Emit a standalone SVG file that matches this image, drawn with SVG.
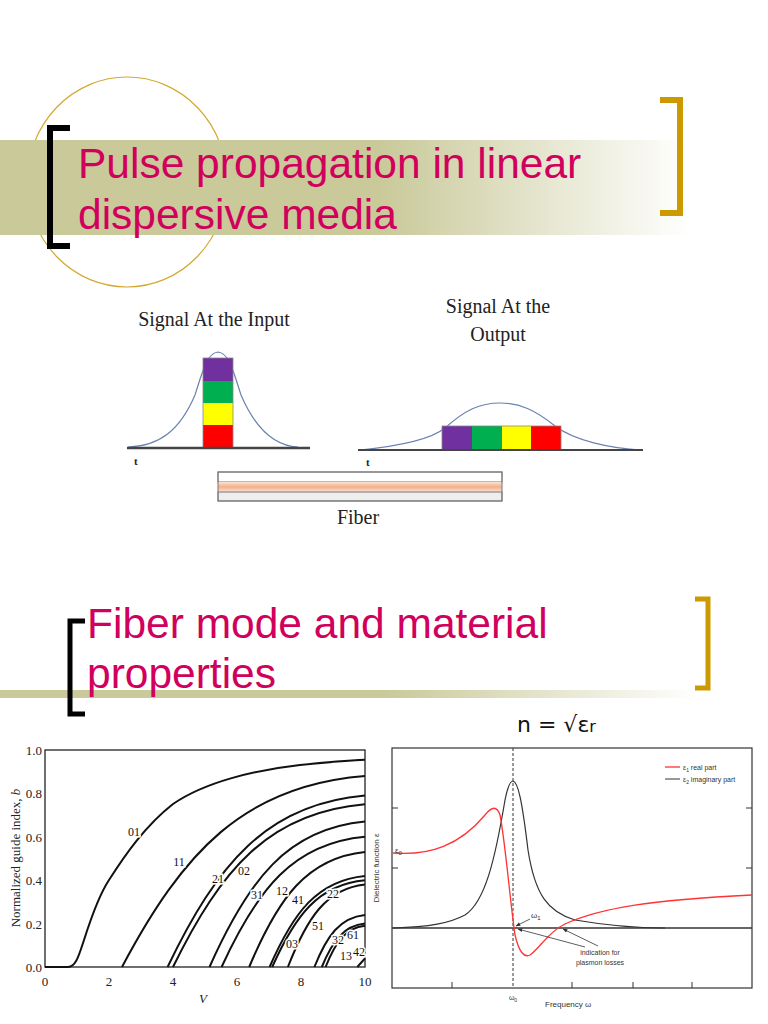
<svg xmlns="http://www.w3.org/2000/svg" width="768" height="1024" viewBox="0 0 768 1024">
<defs>
<linearGradient id="band" x1="0" x2="1" y1="0" y2="0">
<stop offset="0" stop-color="#c9c99a"/><stop offset="0.55" stop-color="#c9c99a"/><stop offset="1" stop-color="#ffffff"/>
</linearGradient>
<linearGradient id="core" x1="0" x2="0" y1="0" y2="1">
<stop offset="0" stop-color="#fbe3d3"/><stop offset="0.5" stop-color="#f2b08c"/><stop offset="1" stop-color="#fbe3d3"/>
</linearGradient>
<marker id="ah" viewBox="0 0 10 10" refX="9" refY="5" markerWidth="6" markerHeight="6" orient="auto"><path d="M0,1 L10,5 L0,9 z" fill="#333"/></marker>
</defs>
<style>
.title{font-family:"Liberation Sans",Arial,sans-serif;font-size:42.5px;fill:#d1005d}
.serif{font-family:"Liberation Serif","Times New Roman",serif;fill:#222}
.sans{font-family:"Liberation Sans",Arial,sans-serif;fill:#333}
.crv{fill:none;stroke:#111;stroke-width:2}
.lbl{font-family:"Liberation Serif",serif;font-size:12px;fill:#111;stroke:#fff;stroke-width:3px;paint-order:stroke}
.tick{font-family:"Liberation Serif",serif;font-size:13px;fill:#222}
</style>
<rect width="768" height="1024" fill="#fff"/>
<g id="title1">
<ellipse cx="127" cy="182" rx="100" ry="105" fill="none" stroke="#d4a830" stroke-width="1.2"/>
<rect x="0" y="140" width="690" height="95" fill="url(#band)"/>
<path d="M70,128 H50 V246 H70" fill="none" stroke="#000" stroke-width="6"/>
<path d="M660,100 H680 V213 H660" fill="none" stroke="#cc9900" stroke-width="6"/>
<text class="title" x="78" y="178">Pulse propagation in linear</text>
<text class="title" x="78" y="229">dispersive media</text>
</g>
<g id="signal-input">
<text class="serif" x="214" y="326" font-size="20" text-anchor="middle">Signal At the Input</text>
<path d="M128,447 C160,446 180,430 195,395 C203,370 207,353 218,352 C229,353 233,370 241,395 C256,430 276,446 298,447" fill="none" stroke="#6a82b0" stroke-width="1.2"/>
<rect x="203" y="358" width="30" height="23" fill="#7030a0"/>
<rect x="203" y="381" width="30" height="22" fill="#00b050"/>
<rect x="203" y="403" width="30" height="22" fill="#ffff00"/>
<rect x="203" y="425" width="30" height="23" fill="#ff0000"/>
<rect x="203" y="358" width="30" height="90" fill="none" stroke="#888" stroke-width="0.8"/>
<line x1="127" y1="448" x2="310" y2="448" stroke="#444" stroke-width="2.5"/>
<text class="serif" x="134" y="465" font-size="11" font-weight="bold">t</text>
</g>
<g id="signal-output">
<text class="serif" x="498" y="313" font-size="20" text-anchor="middle">Signal At the</text>
<text class="serif" x="498" y="341" font-size="20" text-anchor="middle">Output</text>
<path d="M360,450 C400,446 430,440 445,428 C465,410 480,403 500,403 C520,403 535,410 555,426 C575,441 610,448 640,450" fill="none" stroke="#6a82b0" stroke-width="1.2"/>
<rect x="442" y="426" width="30" height="24" fill="#7030a0"/>
<rect x="472" y="426" width="30" height="24" fill="#00b050"/>
<rect x="502" y="426" width="29" height="24" fill="#ffff00"/>
<rect x="531" y="426" width="30" height="24" fill="#ff0000"/>
<rect x="442" y="426" width="119" height="24" fill="none" stroke="#888" stroke-width="0.8"/>
<line x1="358" y1="450" x2="643" y2="450" stroke="#444" stroke-width="2"/>
<text class="serif" x="366" y="466" font-size="11" font-weight="bold">t</text>
</g>
<g id="fiber">
<rect x="218" y="472" width="284" height="10" fill="#fff" stroke="#777"/>
<rect x="218" y="482" width="284" height="10" fill="url(#core)"/>
<rect x="218" y="492" width="284" height="9" fill="#eeeeee" stroke="#777"/>
<rect x="218" y="472" width="284" height="29" fill="none" stroke="#777"/>
<text class="serif" x="358" y="524" font-size="20" text-anchor="middle">Fiber</text>
</g>
<g id="title2">
<rect x="0" y="690" width="700" height="8" fill="url(#band)"/>
<path d="M85,621 H70 V714 H85" fill="none" stroke="#000" stroke-width="5"/>
<path d="M695,599 H708 V688 H695" fill="none" stroke="#cc9900" stroke-width="5"/>
<text class="title" x="87" y="638">Fiber mode and material</text>
<text class="title" x="87" y="688">properties</text>
</g>
<g id="mode-chart">
<rect x="45" y="750" width="320" height="217" fill="#fff" stroke="#222" stroke-width="1.3"/>
<g class="tick" text-anchor="end">
<text x="42" y="755">1.0</text><text x="42" y="798">0.8</text><text x="42" y="842">0.6</text>
<text x="42" y="885">0.4</text><text x="42" y="929">0.2</text><text x="42" y="972">0.0</text>
</g>
<g class="tick" text-anchor="middle">
<text x="45" y="986">0</text><text x="109" y="986">2</text><text x="173" y="986">4</text>
<text x="237" y="986">6</text><text x="301" y="986">8</text><text x="365" y="986">10</text>
</g>
<text class="tick" x="203" y="1003" font-style="italic" text-anchor="middle">V</text>
<text class="tick" transform="translate(20,858) rotate(-90)" text-anchor="middle">Normalized guide index, <tspan font-style="italic">b</tspan></text>
<path class="crv" d="M45,967 L68,967 C76,967 79,955 84,940 C92,915 99,895 109,880 C125,855 145,826 173,804 C205,782 255,770 300,765 C330,762 350,760.5 365,759.8"/>
<path class="crv" d="M122,967 C182.8,852.4 243.5,785.6 365,776"/>
<path class="crv" d="M167.6,967 C217,864.2 266.3,804.2 365,795.6"/>
<path class="crv" d="M173,967 C221,869.3 269,812.3 365,804.2"/>
<path class="crv" d="M209.5,967 C248.4,879.8 287.2,828.9 365,821.6"/>
<path class="crv" d="M221.6,967 C257.5,888.9 293.3,843.3 365,836.8"/>
<path class="crv" d="M249.2,967 C278.2,898 307.1,857.8 365,852"/>
<path class="crv" d="M269.6,967 C293.5,912.3 317.3,880.5 365,875.9"/>
<path class="crv" d="M272.2,967 C295.4,914.9 318.6,884.5 365,880.2"/>
<path class="crv" d="M287.9,967 C307.2,917.5 326.4,888.6 365,884.5"/>
<path class="crv" d="M314.4,967 C327,935.8 339.7,917.6 365,915"/>
<path class="crv" d="M321.8,967 C332.6,941 343.4,925.8 365,923.6"/>
<path class="crv" d="M325.6,967 C335.5,942.3 345.3,927.9 365,925.8"/>
<path class="crv" d="M357.3,967 L365,958.3"/>
<g class="lbl" text-anchor="middle">
<text x="134" y="836">01</text><text x="179" y="866">11</text><text x="218" y="883">21</text>
<text x="244" y="875">02</text><text x="257" y="899">31</text><text x="282" y="895">12</text>
<text x="298" y="904">41</text><text x="333" y="898">22</text><text x="318" y="930">51</text>
<text x="292" y="948">03</text><text x="338" y="944">32</text><text x="353" y="939">61</text>
<text x="346" y="960">13</text><text x="359" y="956">42</text>
</g>
</g>
<g id="dielectric-chart">
<text x="517" y="732" font-family="DejaVu Sans,sans-serif" font-size="22" fill="#111">n = √ε<tspan font-size="16">r</tspan></text>
<rect x="392" y="748" width="360" height="240" fill="#fff" stroke="#333" stroke-width="1.2"/>
<g stroke="#333" stroke-width="1">
<line x1="452" y1="988" x2="452" y2="982"/><line x1="572" y1="988" x2="572" y2="982"/>
<line x1="633" y1="988" x2="633" y2="982"/><line x1="692" y1="988" x2="692" y2="982"/>
<line x1="392" y1="808" x2="398" y2="808"/><line x1="392" y1="868" x2="398" y2="868"/>
<line x1="752" y1="808" x2="746" y2="808"/><line x1="752" y1="868" x2="746" y2="868"/>
</g>
<line x1="513" y1="748" x2="513" y2="988" stroke="#333" stroke-dasharray="3,2"/>
<line x1="392" y1="928" x2="752" y2="928" stroke="#333" stroke-width="1.3"/>
<path d="M393,928 C430,927 450,923 465,915 C485,902 495,860 505,800 C508,785 511,781 513,781 C518,782 522,800 528,850 C535,895 548,912 575,920 C610,926 640,928 665,928" fill="none" stroke="#333" stroke-width="1.2"/>
<path d="M393,853 C430,856 460,845 485,815 C492,806 497,806 500,815 C505,840 510,900 515,935 C519,952 524,958 530,955 C540,948 548,932 565,924 C600,908 650,900 752,895" fill="none" stroke="#ff3333" stroke-width="1.3"/>
<line x1="665" y1="767" x2="680" y2="767" stroke="#ff3333" stroke-width="1.3"/>
<line x1="665" y1="779" x2="680" y2="779" stroke="#333" stroke-width="1"/>
<g class="sans" font-size="7">
<text x="683" y="770">ε<tspan font-size="5" dy="2">1</tspan><tspan dy="-2"> real part</tspan></text>
<text x="683" y="782">ε<tspan font-size="5" dy="2">2</tspan><tspan dy="-2"> imaginary part</tspan></text>
<text x="395" y="853" font-size="8">ε<tspan font-size="6" dy="2">0</tspan></text>
<text x="531" y="918" font-size="8">ω<tspan font-size="6" dy="2">1</tspan></text>
<text x="600" y="955" text-anchor="middle">indication for</text>
<text x="600" y="965" text-anchor="middle">plasmon losses</text>
<text x="513" y="1000" text-anchor="middle">ω<tspan font-size="5" dy="2">0</tspan></text>
<text x="545" y="1007" font-size="8">Frequency ω</text>
<text transform="translate(379,868) rotate(-90)" text-anchor="middle" font-size="8">Dielectric function ε</text>
</g>
<g stroke="#333" stroke-width="0.8" fill="none">
<line x1="530" y1="919" x2="516" y2="926" marker-end="url(#ah)"/>
<line x1="585" y1="947" x2="518" y2="929" marker-end="url(#ah)"/>
<line x1="598" y1="946" x2="563" y2="929" marker-end="url(#ah)"/>
</g>
</g>
</svg>
